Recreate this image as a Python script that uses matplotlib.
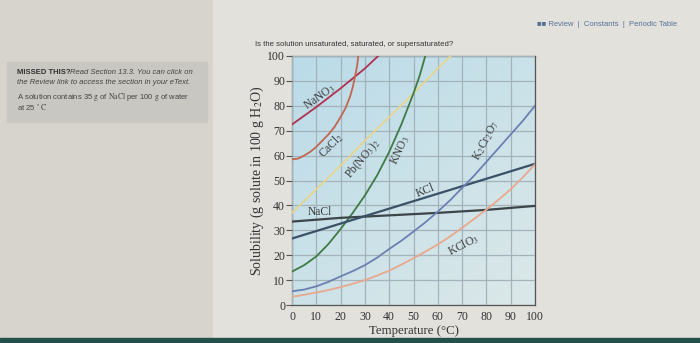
import numpy as np
import matplotlib
matplotlib.use('Agg')
import matplotlib.pyplot as plt
from matplotlib.patches import Rectangle

plt.rcParams['mathtext.fontset'] = 'stix'

# solubility curves (g solute per 100 g water)
t_nano3 = [0, 10, 20, 30, 36]
s_nano3 = [72.5, 79.5, 87, 95, 100.5]
t_cacl2 = [0, 2.5, 5, 7.5, 10, 12.5, 15, 17.5, 20, 22, 24, 25, 26, 26.8, 27.5]
s_cacl2 = [58.5, 58.8, 60, 61.5, 63.5, 66, 68.5, 71.5, 75.5, 79, 84, 87.5, 92, 96, 102]
t_pbno32 = [0, 10, 20, 30, 40, 50, 60, 70]
s_pbno32 = [37, 46.5, 56, 66, 75.5, 85, 95, 104.5]
t_kno3 = [0, 5, 10, 15, 20, 25, 30, 35, 40, 45, 50, 52.5, 55]
s_kno3 = [13.4, 16, 19.5, 24.5, 30.5, 37, 44, 52, 61.5, 72.5, 85, 92, 100.5]
t_nacl = [0, 20, 40, 60, 80, 100]
s_nacl = [33.5, 35, 36, 37, 38.2, 39.8]
t_kcl = [0, 20, 40, 60, 80, 100]
s_kcl = [26.7, 32.7, 38.7, 44.7, 50.7, 56.7]
t_k2cr2o7 = [0, 5, 10, 15, 20, 25, 30, 35, 40, 45, 50, 55, 60, 65, 70, 75, 80, 85, 90, 95, 100]
s_k2cr2o7 = [5.5, 6.2, 7.5, 9.3, 11.5, 13.6, 16, 19, 22.5, 25.8, 29.5, 33.3, 37.5, 42,
             47, 52, 57.5, 63, 68.5, 74, 80]
t_kclo3 = [0, 5, 10, 15, 20, 25, 30, 35, 40, 45, 50, 55, 60, 65, 70, 75, 80, 85, 90, 95, 100]
s_kclo3 = [3.3, 4.1, 5, 6, 7.2, 8.5, 10, 11.8, 13.8, 16.2, 18.8, 21.5, 24.3, 27.5,
           31, 34.6, 38.3, 42.3, 46.5, 51.3, 56.5]

x_ticks = list(range(0, 101, 10))
y_ticks = list(range(0, 101, 10))

fig = plt.figure(figsize=(7, 3.43), dpi=100)
fig.patch.set_facecolor('#d7d4cd')

# page panels
fig.add_artist(Rectangle((213 / 700, 0), 1, 1, transform=fig.transFigure,
                         color='#e3e1db', zorder=0))
fig.add_artist(Rectangle((7 / 700, 1 - 122 / 343), 200 / 700, 60 / 343,
                         transform=fig.transFigure, color='#c9c7c1', zorder=0))
fig.add_artist(Rectangle((0, 0), 1, 5 / 343, transform=fig.transFigure,
                         color='#24504b', zorder=1))

fs_page = 5.5
fig.text(17 / 700, 1 - 73 / 343, 'MISSED THIS?', fontsize=fs_page, weight='bold',
         color='#333333', va='center', family='Liberation Sans')
fig.text(70 / 700, 1 - 73 / 343, 'Read Section 13.3. You can click on', fontsize=fs_page,
         style='italic', color='#444444', va='center', family='Liberation Sans')
fig.text(17 / 700, 1 - 83 / 343, 'the Review link to access the section in your eText.',
         fontsize=fs_page, style='italic', color='#444444', va='center', family='Liberation Sans')
fig.text(17 / 700, 1 - 97 / 343, r'A solution contains 35 $\mathrm{g}$ of $\mathrm{NaCl}$ per 100 $\mathrm{g}$ of water',
         fontsize=fs_page, color='#444444', va='center', family='Liberation Sans')
fig.text(17 / 700, 1 - 107 / 343, r'at 25 $^\circ\mathrm{C}$', fontsize=fs_page,
         color='#444444', va='center', family='Liberation Sans')

fig.text(677 / 700, 1 - 24 / 343, '\u25a0\u25a0 Review  |  Constants  |  Periodic Table',
         fontsize=5.5, color='#56709a', ha='right', va='center', family='Liberation Sans')
fig.text(255 / 700, 1 - 45 / 343,
         'Is the solution unsaturated, saturated, or supersaturated?',
         fontsize=5.6, color='#333333', va='center', family='Liberation Sans')

ax = fig.add_axes([292 / 700, 1 - 305 / 343, 243 / 700, 249 / 343])

# light blue background fading towards bottom right
gy, gx = np.mgrid[0:1:100j, 0:1:100j]
grad = 0.55 * gy + 0.45 * (1 - gx)
top = np.array([0.73, 0.86, 0.91])
bot = np.array([0.86, 0.91, 0.91])
img = bot + (top - bot) * grad[..., None]
ax.imshow(img, extent=[0, 100, 0, 100], origin='lower', aspect='auto', zorder=0)

ax.set_xlim(0, 100)
ax.set_ylim(0, 100)
ax.set_xticks(x_ticks)
ax.set_yticks(y_ticks)
ax.grid(True, color='#a3b3b9', lw=0.9, zorder=1)
ax.set_axisbelow(False)

lw = 1.3
ax.plot(t_nano3, s_nano3, color='#b2304f', lw=lw, zorder=3)
ax.plot(t_cacl2, s_cacl2, color='#c2664f', lw=lw, zorder=3)
ax.plot(t_pbno32, s_pbno32, color='#e6d58e', lw=lw, zorder=3)
ax.plot(t_kno3, s_kno3, color='#3f7b45', lw=lw, zorder=3)
ax.plot(t_nacl, s_nacl, color='#3d4548', lw=lw + 0.3, zorder=3)
ax.plot(t_kcl, s_kcl, color='#3a5168', lw=lw + 0.3, zorder=3)
ax.plot(t_k2cr2o7, s_k2cr2o7, color='#6b80b2', lw=lw, zorder=3)
ax.plot(t_kclo3, s_kclo3, color='#eaa88c', lw=lw, zorder=3)

lab = dict(fontsize=8.3, family='Liberation Serif', color='#3a3a3a',
           ha='center', va='center', zorder=4)
ax.text(11.5, 83.5, r'NaNO$_3$', rotation=35, **lab)
ax.text(16.3, 64.3, r'CaCl$_2$', rotation=45, **lab)
ax.text(29.3, 58.5, r'Pb(NO$_3$)$_2$', rotation=50, **lab)
ax.text(44.4, 62.2, r'KNO$_3$', rotation=65, **lab)
ax.text(11.5, 37.3, 'NaCl', rotation=0, **lab)
ax.text(54.7, 45.9, 'KCl', rotation=22, **lab)
ax.text(80.1, 65.9, r'K$_2$Cr$_2$O$_7$', rotation=62, **lab)
ax.text(70.5, 24.1, r'KClO$_3$', rotation=27, **lab)

for sp in ax.spines.values():
    sp.set_color('#555555')
    sp.set_linewidth(0.9)

ax.tick_params(axis='y', length=4, width=0.8, color='#555555', pad=1,
               labelsize=8.5, labelcolor='#333333')
ax.tick_params(axis='x', length=0, pad=4, labelsize=8.5, labelcolor='#333333')
for t in ax.get_xticklabels() + ax.get_yticklabels():
    t.set_family('Liberation Serif')

ax.set_xlabel('Temperature (\u00b0C)', family='Liberation Serif', fontsize=9.2,
              color='#333333', labelpad=2)
ax.set_ylabel(r'Solubility (g solute in 100 g H$_2$O)', family='Liberation Serif',
              fontsize=10, color='#333333', labelpad=1)

fig.savefig('out.png', dpi=100)
